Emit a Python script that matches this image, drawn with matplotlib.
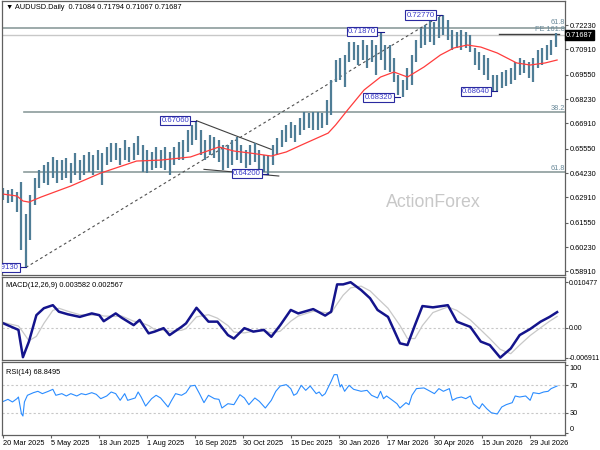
import matplotlib.pyplot as plt
import matplotlib.transforms as mtrans
import numpy as np

plt.rcParams['font.family'] = ['Liberation Sans', 'DejaVu Sans']

# daily bars, one sample every 3 sessions (high / low)
bar_step = 3
bar_hi = [0.6342, 0.6331, 0.6336, 0.6320, 0.6374, 0.6200, 0.6304, 0.6396, 0.6439, 0.6466,
          0.6482, 0.6509, 0.6493, 0.6493, 0.6504, 0.6477, 0.6531, 0.6493, 0.6520, 0.6537,
          0.6520, 0.6547, 0.6531, 0.6563, 0.6585, 0.6585, 0.6558, 0.6601, 0.6563, 0.6585,
          0.6623, 0.6574, 0.6547, 0.6537, 0.6563, 0.6547, 0.6563, 0.6537, 0.6563, 0.6590,
          0.6601, 0.6655, 0.6683, 0.6705, 0.6655, 0.6601, 0.6628, 0.6617, 0.6601, 0.6574,
          0.6574, 0.6601, 0.6617, 0.6574, 0.6547, 0.6574, 0.6585, 0.6547, 0.6520, 0.6520,
          0.6574, 0.6612, 0.6655, 0.6683, 0.6699, 0.6683, 0.6720, 0.6753, 0.6748, 0.6753,
          0.6753, 0.6748, 0.6818, 0.6926, 0.7034, 0.7045, 0.7061, 0.7131, 0.7131, 0.7115,
          0.7142, 0.7115, 0.7142, 0.7115, 0.7187, 0.7115, 0.7115, 0.7045, 0.6953, 0.6926,
          0.6991, 0.7061, 0.7142, 0.7207, 0.7223, 0.7250, 0.7239, 0.7266, 0.7277, 0.7250,
          0.7196, 0.7185, 0.7196, 0.7185, 0.7169, 0.7099, 0.7077, 0.7061, 0.7045, 0.6953,
          0.6953, 0.6969, 0.6980, 0.6991, 0.7023, 0.7045, 0.7034, 0.7023, 0.7045, 0.7088,
          0.7099, 0.7115, 0.7142, 0.71794]
bar_lo = [0.6277, 0.6261, 0.6266, 0.6212, 0.6007, 0.5913, 0.6061, 0.6250, 0.6342, 0.6369,
          0.6358, 0.6396, 0.6369, 0.6385, 0.6396, 0.6369, 0.6412, 0.6385, 0.6412, 0.6428,
          0.6412, 0.6439, 0.6358, 0.6466, 0.6482, 0.6493, 0.6466, 0.6493, 0.6482, 0.6493,
          0.6520, 0.6428, 0.6423, 0.6439, 0.6450, 0.6450, 0.6439, 0.6412, 0.6466, 0.6493,
          0.6493, 0.6536, 0.6574, 0.6601, 0.6520, 0.6493, 0.6520, 0.6504, 0.6482, 0.6439,
          0.6450, 0.6466, 0.6493, 0.6477, 0.6450, 0.6466, 0.6482, 0.6439, 0.6428, 0.6420,
          0.6466, 0.6520, 0.6563, 0.6590, 0.6612, 0.6590, 0.6628, 0.6655, 0.6666, 0.6655,
          0.6655, 0.6666, 0.6683, 0.6737, 0.6915, 0.6926, 0.6890, 0.7023, 0.7034, 0.7007,
          0.7034, 0.6991, 0.7023, 0.6953, 0.7034, 0.6980, 0.6969, 0.6915, 0.6845, 0.6832,
          0.6872, 0.6899, 0.7023, 0.7099, 0.7115, 0.7131, 0.7115, 0.7153, 0.7169, 0.7142,
          0.7088, 0.7099, 0.7088, 0.7099, 0.7077, 0.7007, 0.6980, 0.6953, 0.6926, 0.6861,
          0.6864, 0.6883, 0.6894, 0.6904, 0.6926, 0.6953, 0.6964, 0.6937, 0.6915, 0.6991,
          0.7007, 0.7034, 0.7061, 0.71067]

# moving average (red)
ma_bar = [0, 9, 13, 17, 25, 45, 65, 89, 105, 125, 144, 154, 165, 179, 189, 199, 217, 222,
          230, 241, 252, 261, 270, 281, 292, 301, 310, 319, 330, 343, 352, 362, 370]
ma_val = [0.6309, 0.6299, 0.6272, 0.6266, 0.6293, 0.6353, 0.6423, 0.6488, 0.6493, 0.6510,
          0.6564, 0.6542, 0.6531, 0.6515, 0.6537, 0.6574, 0.6639, 0.6683, 0.6764, 0.6872,
          0.6942, 0.6969, 0.6942, 0.6996, 0.7061, 0.7099, 0.7115, 0.7104, 0.7072, 0.7018,
          0.7007, 0.7018, 0.7034]

# MACD(12,26,9)
macd_bar = [0, 10, 13, 17, 22, 27, 33, 37, 43, 51, 59, 64, 67, 75, 79, 87, 91, 97, 101, 107,
            111, 119, 122, 129, 137, 143, 150, 154, 161, 167, 174, 179, 185, 192, 197, 207,
            215, 219, 223, 227, 232, 239, 245, 250, 257, 265, 270, 275, 280, 287, 297, 303,
            312, 319, 325, 332, 339, 345, 352, 359, 365, 370]
macd_val = [0.0010, -0.0005, -0.0068, -0.0032, 0.0029, 0.0045, 0.0052, 0.0037, 0.0031, 0.0025,
            0.0033, 0.0029, 0.0015, 0.0033, 0.0023, 0.0006, 0.0018, -0.0013, -0.0009, -0.0001,
            -0.0017, 0.0002, 0.0010, 0.0046, 0.0014, 0.0014, -0.0017, -0.0025, -0.0001, -0.0009,
            -0.0005, -0.0021, 0.0006, 0.0041, 0.0033, 0.0043, 0.0028, 0.0037, 0.0100, 0.0100,
            0.0105, 0.0087, 0.0068, 0.0041, 0.0025, -0.0036, -0.0040, 0.0006, 0.0050, 0.0047,
            0.0052, 0.0014, 0.0002, -0.0032, -0.0040, -0.0069, -0.0048, -0.0017, -0.0003, 0.0014,
            0.0025, 0.0036]
signal_val = [0.0012, 0.0004, -0.0010, -0.0030, -0.0020, 0.0010, 0.0040, 0.0045, 0.0038, 0.0030,
              0.0029, 0.0030, 0.0027, 0.0026, 0.0027, 0.0015, 0.0013, 0.0005, -0.0004, -0.0006,
              -0.0008, -0.0006, -0.0002, 0.0025, 0.0030, 0.0022, 0.0005, -0.0010, -0.0012, -0.0008,
              -0.0007, -0.0012, -0.0008, 0.0015, 0.0027, 0.0038, 0.0035, 0.0034, 0.0055, 0.0075,
              0.0092, 0.0096, 0.0085, 0.0068, 0.0045, 0.0005, -0.0025, -0.0025, 0.0005, 0.0035,
              0.0048, 0.0040, 0.0018, -0.0005, -0.0025, -0.0050, -0.0060, -0.0040, -0.0018, 0.0000,
              0.0015, 0.0026]

# RSI(14)
rsi_bar = [0, 3, 6, 9, 10, 11, 12, 13, 14, 16, 20, 23, 26, 30, 33, 35, 39, 42, 45, 49,
           52, 55, 59, 62, 65, 69, 72, 75, 78, 81, 83, 88, 90, 92, 95, 99, 102, 105, 110, 112,
           115, 119, 122, 125, 128, 131, 134, 137, 141, 144, 146, 150, 154, 158, 161, 164, 168,
           171, 175, 179, 182, 185, 189, 192, 194, 196, 199, 202, 205, 209, 211, 213, 215, 219,
           221, 223, 225, 226, 228, 231, 234, 239, 243, 246, 250, 252, 254, 256, 260, 263, 265,
           269, 271, 273, 276, 281, 284, 288, 291, 294, 298, 300, 303, 306, 309, 312, 314, 318,
           320, 323, 326, 330, 333, 336, 340, 342, 345, 349, 352, 354, 358, 361, 364, 366, 370]
rsi_val = [46.5, 49.4, 45.6, 50.4, 52.8, 40.7, 28.6, 25.2, 45.6, 55.3, 59.1, 61.1, 57.7, 61.1,
           64.0, 55.3, 57.7, 54.3, 57.7, 54.3, 57.7, 56.2, 59.1, 56.7, 50.4, 54.3, 60.1, 57.7,
           48.0, 57.7, 48.0, 51.4, 60.1, 52.8, 39.7, 50.4, 55.3, 51.4, 38.3, 46.5, 57.7, 55.3,
           59.1, 68.8, 69.8, 57.7, 44.6, 55.3, 50.4, 49.4, 36.8, 43.1, 41.7, 56.2, 51.4, 41.7,
           51.4, 46.5, 36.8, 48.0, 61.1, 68.8, 70.8, 65.0, 55.3, 57.7, 69.8, 62.5, 68.8, 57.7,
           60.1, 54.3, 57.7, 75.6, 85.3, 85.3, 67.4, 70.8, 61.1, 69.8, 64.0, 61.1, 62.5, 55.3,
           51.4, 61.1, 50.4, 54.3, 48.0, 43.1, 36.8, 44.6, 41.7, 55.3, 65.0, 66.0, 62.5, 57.7,
           65.0, 61.1, 65.0, 48.0, 51.4, 52.8, 50.4, 54.3, 43.1, 35.8, 43.1, 35.8, 30.0, 28.1,
           38.3, 41.7, 44.6, 54.3, 52.8, 54.3, 48.0, 59.1, 57.7, 60.1, 61.1, 65.0, 68.8]

date_bar = [0, 32, 64, 96, 128, 160, 192, 224, 256, 288, 320, 352]
date_lbl = ['20 Mar 2025', '5 May 2025', '18 Jun 2025', '1 Aug 2025', '16 Sep 2025',
            '30 Oct 2025', '15 Dec 2025', '30 Jan 2026', '17 Mar 2026', '30 Apr 2026',
            '15 Jun 2026', '29 Jul 2026']

price_ticks = [0.72230, 0.70910, 0.69550, 0.68230, 0.66910, 0.65550,
               0.64230, 0.62910, 0.61550, 0.60230, 0.58910]

# labelled swing points
swing_bar = [15, 129, 177, 254, 265, 293, 330]
swing_px = [0.59130, 0.67060, 0.64200, 0.71870, 0.68320, 0.72770, 0.68640]

fib_38 = 0.6754
fib_62 = 0.6429
fib_top = 0.7205
fe_level = 0.7176
last_close = 0.71687

bar_col = '#4f7d96'
frame_col = '#606060'
fib_col = '#8c9c9c'
txt_fib = '#6a8a9a'
fs = 5.3

fig = plt.figure(figsize=(6, 4.5), dpi=100)
ax = fig.add_axes([0.0033, 0.3889, 0.9384, 0.6089])
ax_m = fig.add_axes([0.0033, 0.2, 0.9384, 0.1844])
ax_r = fig.add_axes([0.0033, 0.0333, 0.9384, 0.1623])

x_bars = np.arange(len(bar_hi)) * bar_step

# ---- price panel
ax.axhline(fib_top, color=fib_col, lw=1.2)
ax.axhline(last_close, color='#c8c8c8', lw=1)
ax.plot([14, 376], [fib_38, fib_38], color=fib_col, lw=1.2)
ax.plot([14, 376], [fib_62, fib_62], color=fib_col, lw=1.2)
ax.plot([331, 371], [fe_level, fe_level], color='#404040', lw=1)
ax.text(375, fib_top + 0.0012, '61.8', ha='right', va='bottom', fontsize=fs, color=txt_fib)
ax.text(375, fib_top + 0.0012, 'FE 161.8', ha='right', va='top', fontsize=fs, color=txt_fib)
ax.text(375, fib_38, '38.2', ha='right', va='bottom', fontsize=fs, color=txt_fib)
ax.text(375, fib_62, '61.8', ha='right', va='bottom', fontsize=fs, color=txt_fib)

# trend lines
ax.plot([swing_bar[0], swing_bar[5]], [swing_px[0], swing_px[5]],
        color='#505050', lw=0.8, ls=(0, (2.5, 2.5)))
ax.plot([129, 179], [0.6706, 0.6551], color='#404040', lw=0.8)
ax.plot([134, 184], [0.6443, 0.6407], color='#404040', lw=0.8)

ax.vlines(x_bars, bar_lo, bar_hi, color=bar_col, lw=1.6)
ax.plot(ma_bar, ma_val, color='#ff3c3c', lw=0.9)

for b, p in zip(swing_bar, swing_px):
    ax.plot([b - 5, b], [p, p], color='#1a1a8c', lw=0.8)
    ax.text(b - 5, p, '%.5f' % p, ha='right', va='center', fontsize=fs + 0.3,
            color='#3a3ac8', clip_on=True,
            bbox=dict(boxstyle='square,pad=0.15', fc='white', ec='#2a2aa0', lw=0.8))

ax.text(0.766, 0.263, 'ActionForex', transform=ax.transAxes, ha='center', va='center',
        fontsize=12.8, color='#c8c8c8')
ax.text(0.008, 0.975, '\u25bc AUDUSD.Daily  0.71084 0.71794 0.71067 0.71687',
        transform=ax.transAxes, ha='left', va='center', fontsize=fs, color='black')

ax.set_xlim(-1, 375.3)
ax.set_ylim(0.5872, 0.7353)
ax.set_yticks(price_ticks)
ax.set_yticklabels(['%.5f' % t for t in price_ticks])
tr = mtrans.blended_transform_factory(ax.transAxes, ax.transData)
ax.text(1.002, last_close, '%.5f' % last_close, transform=tr, ha='left', va='center',
        fontsize=fs, color='white', clip_on=False,
        bbox=dict(boxstyle='square,pad=0.2', fc='black', ec='black'))

# ---- MACD panel
ax_m.axhline(0, color='#c8c8c8', lw=0.8, ls=(0, (2, 2)))
ax_m.plot(macd_bar, signal_val, color='#c8c8c8', lw=0.9)
ax_m.plot(macd_bar, macd_val, color='#14148c', lw=1.8)
ax_m.set_xlim(-1, 375.3)
ax_m.set_ylim(-0.00745, 0.0117)
ax_m.set_yticks([0.010477, 0.0, -0.006911])
ax_m.set_yticklabels(['0.010477', '0.00', '-0.006911'])
ax_m.text(0.008, 0.9, 'MACD(12,26,9) 0.003582 0.002567', transform=ax_m.transAxes,
          ha='left', va='center', fontsize=fs)

# ---- RSI panel
for lv in [70, 30]:
    ax_r.axhline(lv, color='#c8c8c8', lw=0.8, ls=(0, (2, 2)))
ax_r.plot(rsi_bar, rsi_val, color='#2a8cff', lw=0.8)
ax_r.set_xlim(-1, 375.3)
ax_r.set_ylim(-2.4, 103.7)
ax_r.set_yticks([100, 70, 30, 0])
ax_r.text(0.008, 0.86, 'RSI(14) 68.8495', transform=ax_r.transAxes,
          ha='left', va='center', fontsize=fs)
ax_r.set_xticks(date_bar)
ax_r.set_xticklabels(date_lbl, ha='left')

for a in (ax, ax_m, ax_r):
    a.yaxis.tick_right()
    a.tick_params(axis='y', length=2, labelsize=fs, pad=1.5, color=frame_col)
    for s in a.spines.values():
        s.set_color(frame_col)
        s.set_linewidth(0.9)
for a in (ax, ax_m):
    a.set_xticks([])
ax_m.tick_params(axis='y', labelsize=5.0, pad=1)
rl = ax_r.get_yticklabels()
rl[0].set_va('top')
rl[-1].set_va('bottom')
ax_r.tick_params(axis='x', length=2, labelsize=fs, pad=1.5, color=frame_col)

fig.savefig('out.png', dpi=100)
